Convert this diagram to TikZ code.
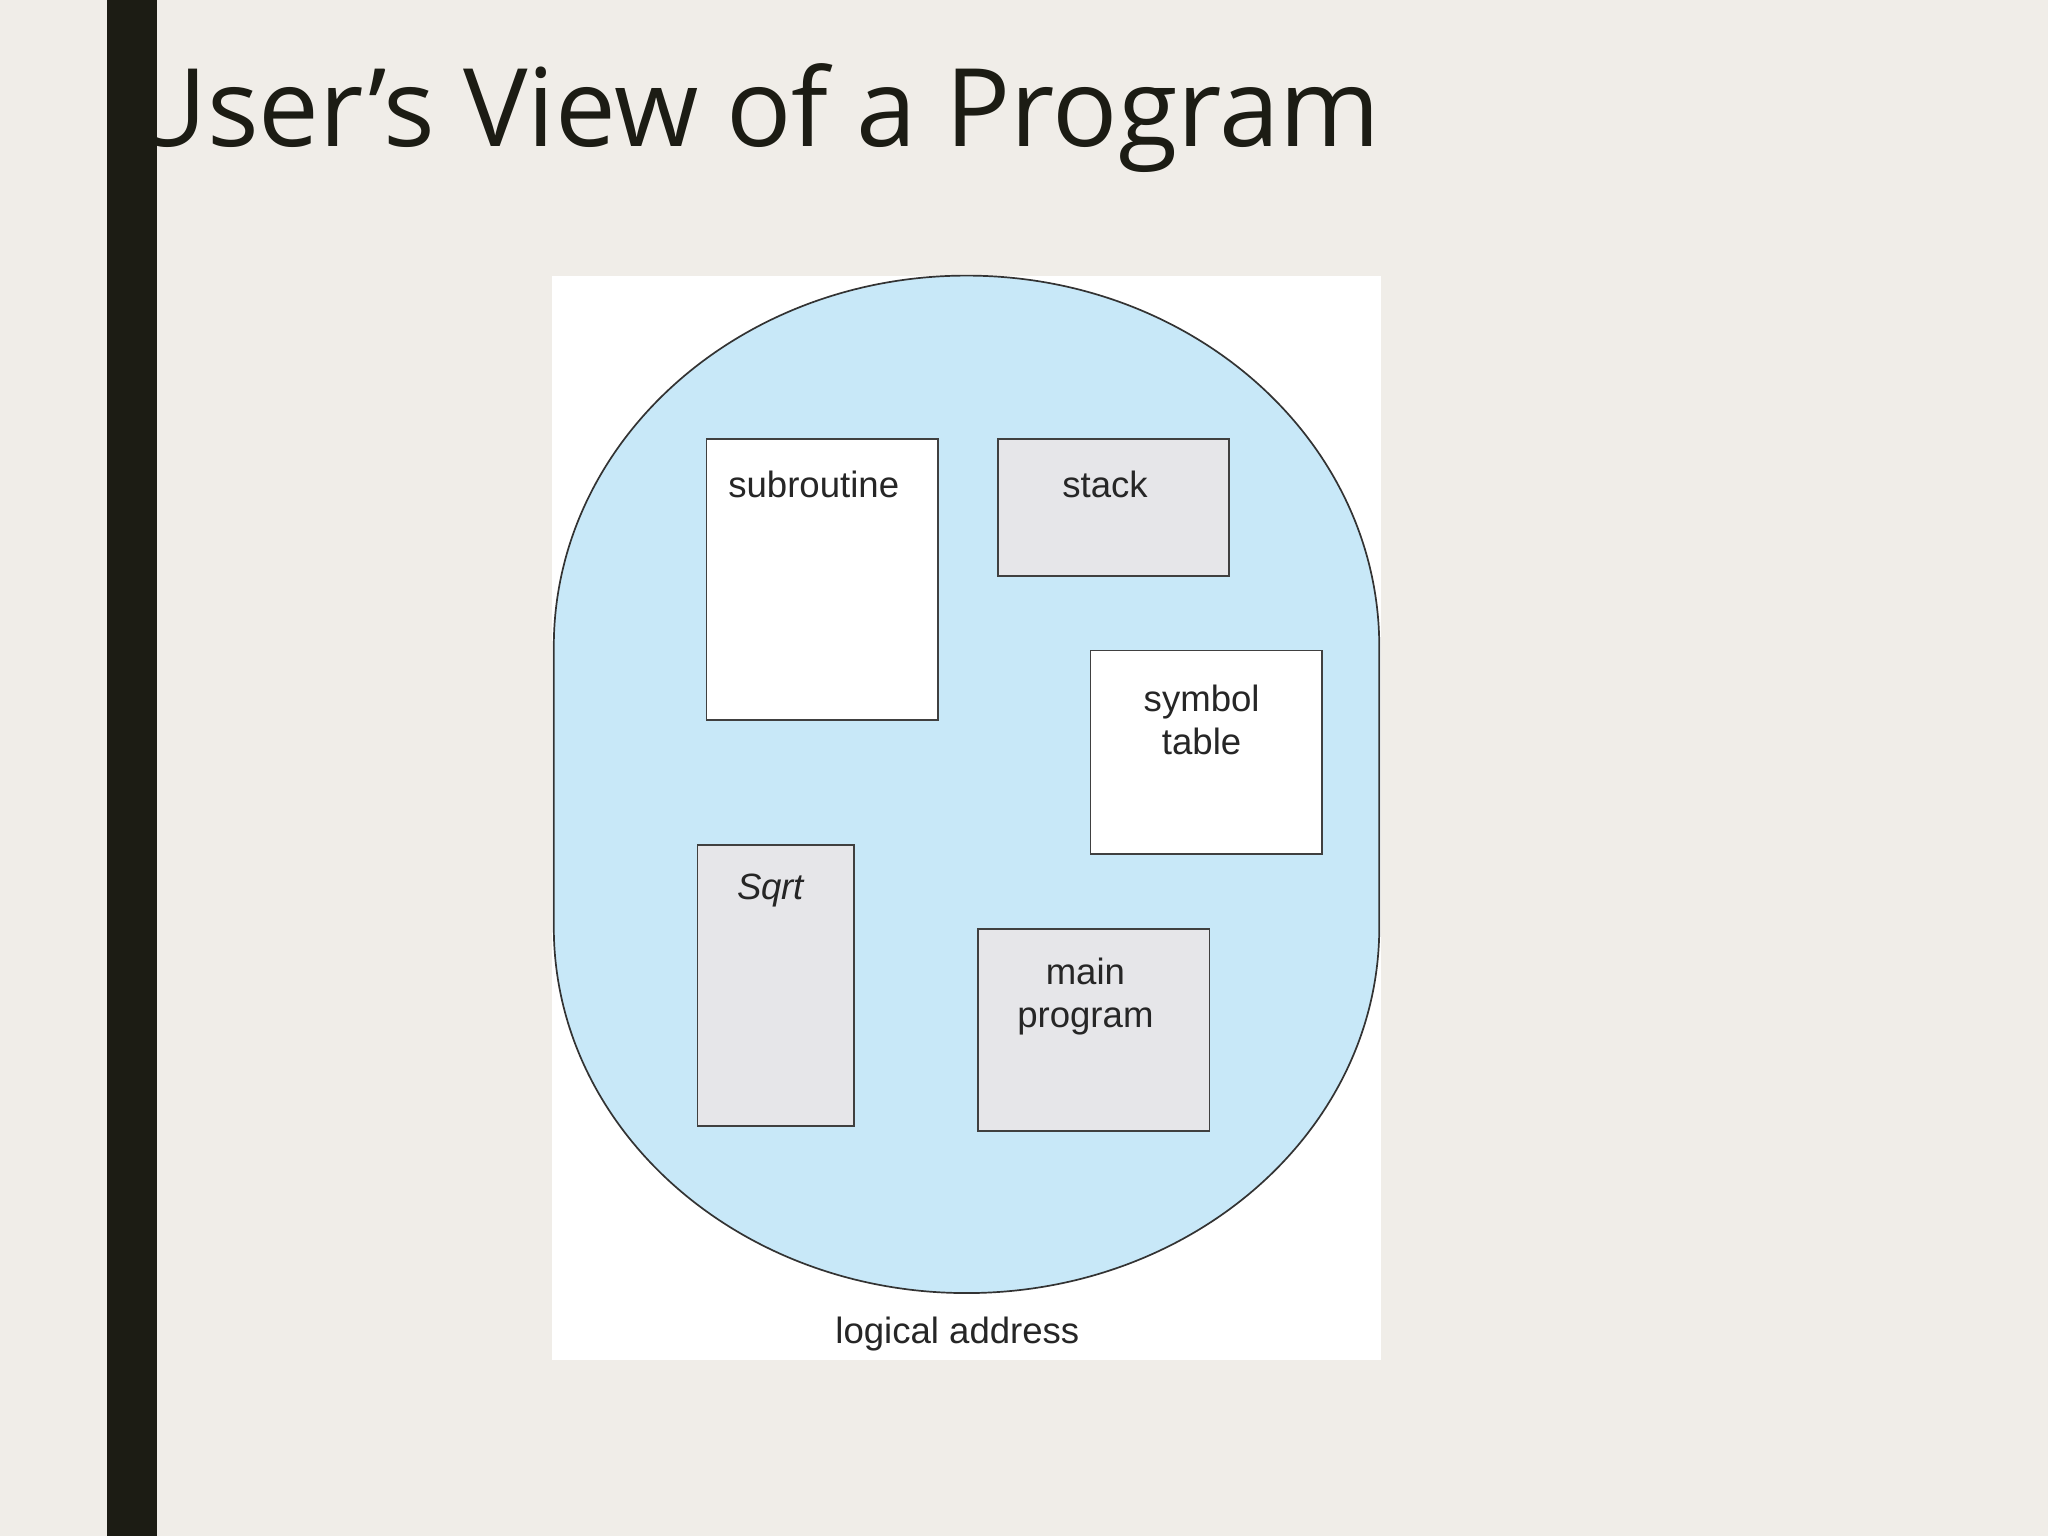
\documentclass[tikz,border=0pt]{standalone}
\usepackage{fontspec}
\setmainfont{Liberation Sans}
\newfontfamily\titlefont{Open Sans}
\definecolor{bgc}{RGB}{240,237,232}
\definecolor{barc}{RGB}{28,28,20}
\definecolor{bluec}{RGB}{200,232,248}
\definecolor{grayc}{RGB}{230,230,233}
\begin{document}
\begin{tikzpicture}[x=1pt,y=-1pt,
  seg/.style={draw=black!75,line width=1.3pt},
  lbl/.style={font=\fontsize{28}{33}\selectfont,align=center,text=black!85}]
\useasboundingbox (0,0) rectangle (1568,1176);
\fill[bgc] (0,0) rectangle (1568,1176);
\node[anchor=base west,inner sep=0,font=\titlefont\fontsize{83}{90}\selectfont,text=barc] (title) at (98,112) {User’s View of a Program};
\fill[barc] (82,0) rectangle (120,1176);
\fill[white] (423,211) rectangle (1057,1041);
\draw[fill=bluec,line width=1.3pt,draw=black!80]
  (424,495) arc[start angle=180,end angle=360,x radius=316,y radius=284]
  -- (1056,710) arc[start angle=0,end angle=180,x radius=316,y radius=280] -- cycle;
\draw[seg,fill=white] (541,336) rectangle (718,551);
\node[lbl] (sub) at (623,371) {subroutine};
\draw[seg,fill=grayc] (764,336) rectangle (941,441);
\node[lbl] (stack) at (846,371) {stack};
\draw[seg,fill=white] (835,498) rectangle (1012,654);
\node[lbl] (sym) at (920,551) {symbol\\table};
\draw[seg,fill=grayc] (534,647) rectangle (654,862);
\node[lbl,font=\fontsize{28}{33}\selectfont\itshape] (sqrt) at (590,682) {Sqrt};
\draw[seg,fill=grayc] (749,711) rectangle (926,866);
\node[lbl] (main) at (831,763) {main\\program};
\node[lbl] (la) at (733,1021) {logical address};
\end{tikzpicture}
\end{document}
